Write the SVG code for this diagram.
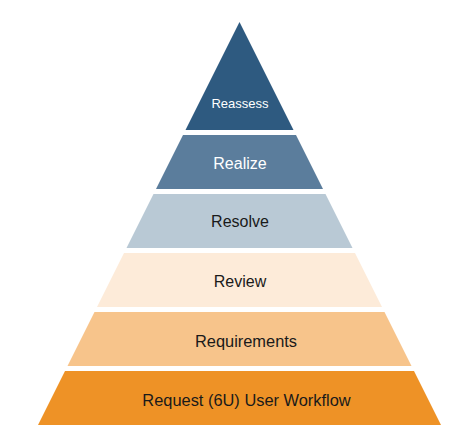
<svg xmlns="http://www.w3.org/2000/svg" width="474" height="442" viewBox="0 0 474 442">
<style>
.lbl{font-family:"Liberation Sans",Arial,sans-serif;font-size:16px;text-anchor:middle;fill:#1a1a1a}
.w{fill:#ffffff}
.big{font-size:16.4px}
</style>
<rect width="474" height="442" fill="#ffffff"/>
<g id="connectors"></g>
<g id="reassess">
<polygon points="239.5,22 293.5,130 185.5,130" fill="#2e5a80"/>
<text class="lbl w" x="240" y="108" style="font-size:13px">Reassess</text>
</g>
<g id="realize">
<polygon points="183,135 296,135 323,189 156,189" fill="#5b7d9c"/>
<text class="lbl w" x="240" y="169">Realize</text>
</g>
<g id="resolve">
<polygon points="153.5,194 325.5,194 352.5,248 126.5,248" fill="#b9c9d5"/>
<text class="lbl" x="240" y="227">Resolve</text>
</g>
<g id="review">
<polygon points="124,253 355,253 382,307 97,307" fill="#fdebd9"/>
<text class="lbl" x="240" y="286.5">Review</text>
</g>
<g id="requirements">
<polygon points="94.5,312 384.5,312 411.5,366 67.5,366" fill="#f7c48b"/>
<text class="lbl big" x="246" y="346.5">Requirements</text>
</g>
<g id="request">
<polygon points="65,371 414,371 441,425 38,425" fill="#ee9226"/>
<text class="lbl big" x="246.5" y="405.5">Request (6U) User Workflow</text>
</g>
</svg>
